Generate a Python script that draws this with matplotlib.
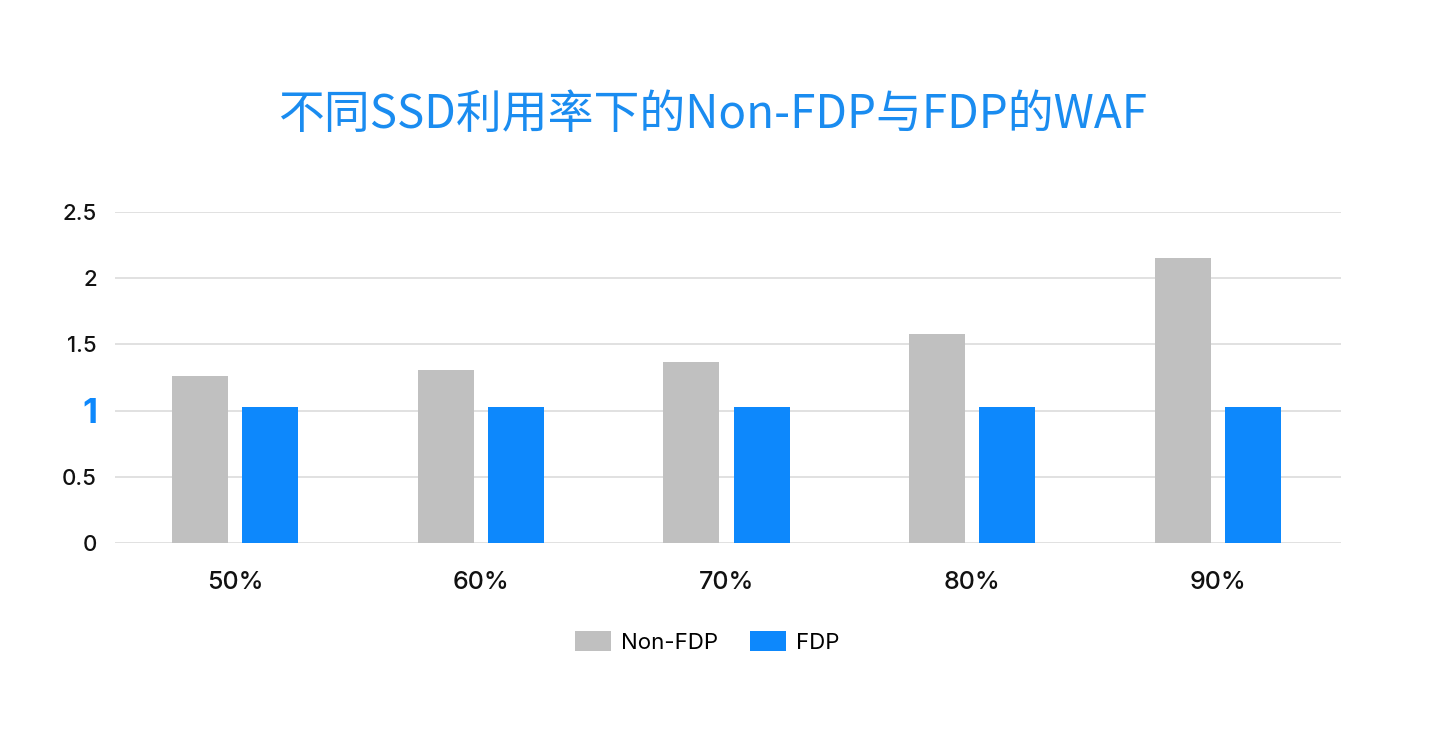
import matplotlib
matplotlib.use("Agg")
import matplotlib.pyplot as plt
import numpy as np
from matplotlib.patches import Patch

plt.rcParams['font.family'] = ['Inter', 'Noto Sans CJK SC', 'DejaVu Sans']

categories = ["50%", "60%", "70%", "80%", "90%"]
non_fdp = [1.26, 1.31, 1.37, 1.58, 2.15]
fdp = [1.03, 1.03, 1.03, 1.03, 1.03]
series_names = ["Non-FDP", "FDP"]
yticks = [0, 0.5, 1, 1.5, 2, 2.5]
ytick_labels = ["0", "0.5", "1", "1.5", "2", "2.5"]
title = "不同SSD利用率下的Non-FDP与FDP的WAF"

gray = "#c0c0c0"
blue = "#0d88fc"
title_blue = "#1a8cf0"

fig = plt.figure(figsize=(14.4, 7.48), dpi=100)
ax = fig.add_axes([0.0799, 0.274, 0.8513, 0.4426])

x = np.arange(len(categories))
w = 0.228
off = 0.143
ax.bar(x - off, non_fdp, width=w, color=gray, zorder=3)
ax.bar(x + off, fdp, width=w, color=blue, zorder=3)

ax.set_xlim(-0.488, len(categories) - 0.5)
ax.set_ylim(0, 2.5)
ax.set_yticks(yticks)
ax.set_yticklabels(ytick_labels)
ax.set_xticks(x)
ax.set_xticklabels(categories)
ax.tick_params(axis='y', length=0, pad=13, labelsize=16, labelcolor='#111111')
ax.tick_params(axis='x', length=0, pad=20, labelsize=18, labelcolor='#111111')
for lbl in ax.get_yticklabels() + ax.get_xticklabels():
    lbl.set_fontweight('medium')
for lbl in ax.get_yticklabels():
    if lbl.get_text() == "1":
        lbl.set_color(blue)
        lbl.set_fontweight('bold')
        lbl.set_fontsize(25)

ax.yaxis.grid(True, color='#dcdcdc', linewidth=1.2, zorder=0)
ax.set_axisbelow(True)
for s in ax.spines.values():
    s.set_visible(False)

fig.text(0.4945, 0.847, title, ha='center', va='center', fontsize=33,
         color=title_blue, fontweight='medium',
         family=['Noto Sans CJK SC', 'DejaVu Sans'])

handles = [Patch(facecolor=gray, label=series_names[0]),
           Patch(facecolor=blue, label=series_names[1])]
fig.legend(handles=handles, loc='center', bbox_to_anchor=(0.491, 0.142),
           ncol=2, frameon=False, fontsize=16, handlelength=1.6,
           handleheight=1.0, handletextpad=0.45, columnspacing=1.45)

fig.savefig("out.png", dpi=100, facecolor='white')
